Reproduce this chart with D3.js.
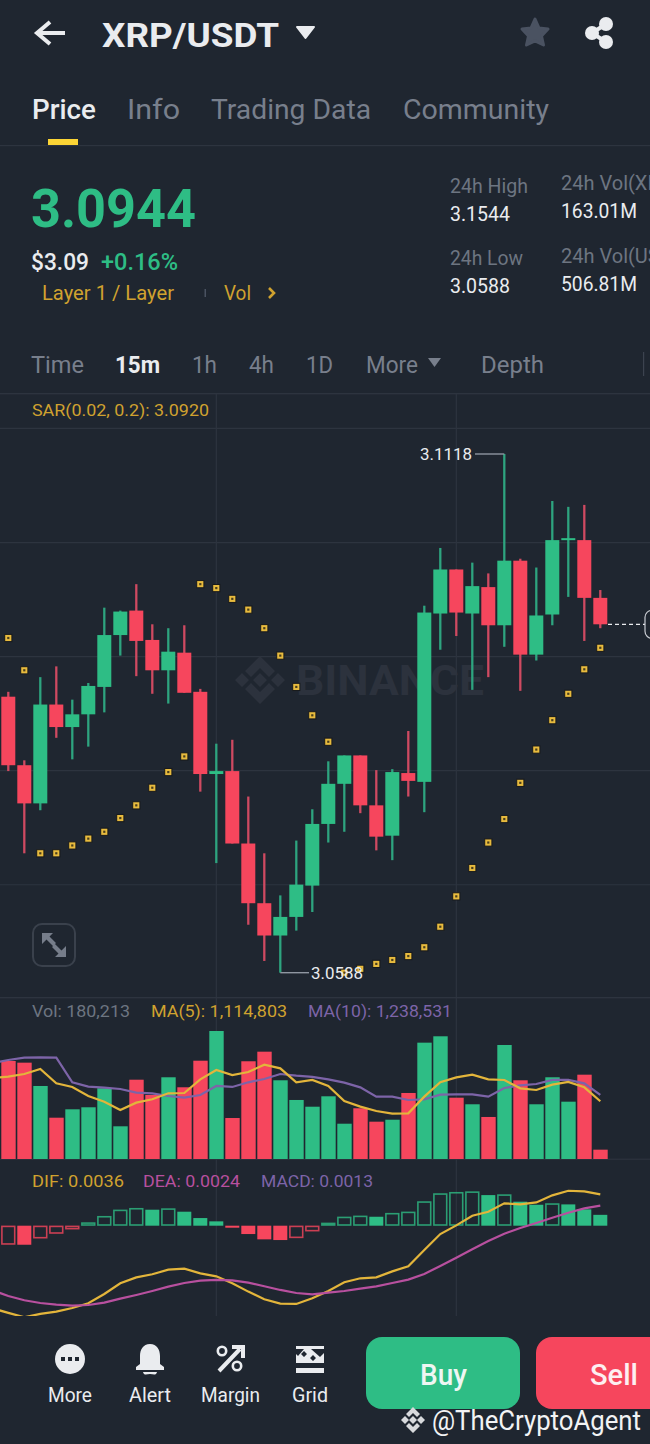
<!DOCTYPE html>
<html>
<head>
<meta charset="utf-8">
<script src="https://cdnjs.cloudflare.com/ajax/libs/d3/7.8.5/d3.min.js"></script>
<style>
html,body{margin:0;padding:0;background:#1f2630;overflow:hidden}
svg{display:block;font-family:Roboto,"Noto Sans",sans-serif}
</style>
</head>
<body>
<svg id="c" width="650" height="1444"></svg>
<script>
// ---------- DATA ----------
const opens  = [3.0870,3.0800,3.0761,3.0862,3.0839,3.0852,3.0880,3.0933,3.0958,3.0928,3.0897,3.0915,3.0875,3.0791,3.0794,3.0720,3.0659,3.0626,3.0645,3.0677,3.0740,3.0781,3.0810,3.0759,3.0728,3.0792,3.0783,3.0955,3.1000,3.0955,3.0982,3.0943,3.1009,3.0913,3.0954,3.1030,3.1030,3.0971];
const closes = [3.0800,3.0761,3.0862,3.0839,3.0852,3.0881,3.0933,3.0957,3.0927,3.0897,3.0916,3.0874,3.0791,3.0794,3.0720,3.0659,3.0626,3.0645,3.0678,3.0740,3.0781,3.0810,3.0759,3.0727,3.0793,3.0784,3.0956,3.1000,3.0956,3.0983,3.0943,3.1009,3.0913,3.0953,3.1030,3.1032,3.0971,3.0944];
const highs  = [3.0875,3.0805,3.0890,3.0901,3.0867,3.0884,3.0961,3.0958,3.0985,3.0944,3.0940,3.0943,3.0878,3.0822,3.0826,3.0768,3.0710,3.0667,3.0723,3.0755,3.0804,3.0810,3.0810,3.0795,3.0796,3.0835,3.0963,3.1022,3.1000,3.1007,3.0996,3.1118,3.1011,3.1002,3.1070,3.1064,3.1066,3.0979];
const lows   = [3.0794,3.0710,3.0754,3.0828,3.0806,3.0819,3.0854,3.0912,3.0891,3.0873,3.0863,3.0874,3.0773,3.0700,3.0720,3.0637,3.0600,3.0588,3.0631,3.0650,3.0721,3.0732,3.0751,3.0713,3.0703,3.0768,3.0752,3.0918,3.0932,3.0877,3.0890,3.0921,3.0876,3.0907,3.0943,3.0972,3.0927,3.0940];
const sar    = [3.0930,3.0897,3.0710,3.0710,3.0718,3.0725,3.0732,3.0746,3.0759,3.0777,3.0793,3.0809,3.0985,3.0981,3.0970,3.0959,3.0940,3.0912,3.0880,3.0851,3.0824,3.0588,3.0592,3.0597,3.0601,3.0605,3.0614,3.0635,3.0666,3.0695,3.0721,3.0745,3.0782,3.0816,3.0846,3.0873,3.0898,3.0920];
// volume, thousands
const volumes = [1891,1859,1409,797,959,998,1365,631,1530,1235,1577,1384,1897,2470,791,1886,2071,1519,1139,1009,1210,681,979,720,758,1274,2245,2368,1183,1056,811,2200,1519,1056,1577,1106,1627,180];
// first value of the next four lists belongs to the candle just off the left edge
const ma5  = [1563,1589,1640,1737,1460,1390,1216,1106,946,1087,1152,1267,1274,1537,1718,1621,1679,1821,1750,1480,1525,1409,1119,1010,926,875,881,1203,1480,1576,1628,1537,1525,1364,1332,1435,1486,1383,1115];
const ma10 = [1846,1911,1956,1962,1956,1480,1396,1377,1351,1280,1267,1216,1184,1235,1409,1390,1480,1544,1640,1608,1583,1537,1473,1383,1203,1203,1139,1152,1242,1248,1248,1203,1370,1422,1447,1525,1525,1460,1239];
const dif  = [-0.00950,-0.01003,-0.01053,-0.01015,-0.00988,-0.00946,-0.00892,-0.00785,-0.00663,-0.00594,-0.00559,-0.00506,-0.00494,-0.00548,-0.00582,-0.00663,-0.00758,-0.00846,-0.00896,-0.00900,-0.00835,-0.00751,-0.00651,-0.00605,-0.00594,-0.00525,-0.00467,-0.00280,-0.00096,0.00004,0.00115,0.00161,0.00257,0.00245,0.00268,0.00349,0.00402,0.00394,0.00360];
const dea  = [-0.00743,-0.00808,-0.00858,-0.00889,-0.00908,-0.00919,-0.00912,-0.00885,-0.00839,-0.00797,-0.00751,-0.00701,-0.00659,-0.00632,-0.00624,-0.00628,-0.00655,-0.00697,-0.00739,-0.00774,-0.00789,-0.00770,-0.00751,-0.00724,-0.00697,-0.00659,-0.00620,-0.00555,-0.00463,-0.00368,-0.00272,-0.00176,-0.00092,-0.00027,0.00031,0.00092,0.00149,0.00199,0.00230];
const macd = [-0.00230,-0.00218,-0.00219,-0.00146,-0.00092,-0.00042,0.00038,0.00111,0.00184,0.00203,0.00184,0.00199,0.00161,0.00088,0.00050,-0.00023,-0.00096,-0.00157,-0.00165,-0.00142,-0.00065,0.00034,0.00103,0.00115,0.00103,0.00146,0.00161,0.00280,0.00372,0.00387,0.00394,0.00352,0.00360,0.00276,0.00241,0.00257,0.00245,0.00188,0.00125];
const gridPrices = [3.11446,3.10279,3.09114,3.07949,3.06784];
const gridCandles = [13,28];
const tabLabels = ["Price","Info","Trading Data","Community"];
const timeLabels = ["Time","15m","1h","4h","1D","More","Depth"];
const toolLabels = ["More","Alert","Margin","Grid"];

// ---------- COLOURS ----------
const BG="#1f2630",GREEN="#2ebd85",RED="#f6465d",LINE="#2d343f",GREY="#787f8c",WHITE="#eaecef",GOLD="#d0a22f",YEL="#e3b53b",PURP="#7d64a8",PINK="#b8509f";

const svg=d3.select("#c");
const defs=svg.append("defs");
defs.append("clipPath").attr("id","macdClip").append("rect").attr("x",0).attr("y",1160).attr("width",650).attr("height",156);

function T(x,y,s,size,color,weight,w,anchor){
  const t=svg.append("text").attr("x",x).attr("y",y).text(s).attr("font-size",size).attr("fill",color).attr("font-weight",weight||400);
  if(w){t.attr("textLength",w).attr("lengthAdjust","spacingAndGlyphs");}
  if(anchor)t.attr("text-anchor",anchor);
  return t;
}

// ---------- SCALES ----------
const x=d3.scaleLinear().domain([0,37]).range([8.3,600.3]);
const y=d3.scaleLinear().domain([3.1118,3.0588]).range([454,972.7]);
const yVol=d3.scaleLinear().domain([0,2470]).range([1159,1031]);
const yMacd=d3.scaleLinear().domain([0,0.0036]).range([1225.7,1194.4]);
const idx=d3.range(opens.length);

// ---------- HEADER ----------
svg.append("path").attr("d","M37 33H65M50 22L37 33L50 44").attr("fill","none").attr("stroke",WHITE).attr("stroke-width",4);
T(102,47,"XRP/USDT",33.5,WHITE,700,177);
svg.append("path").attr("d","M297 27H314L305.5 38Z").attr("fill",WHITE).attr("stroke",WHITE).attr("stroke-width",2).attr("stroke-linejoin","round");
svg.append("path").attr("d","M535 19L539 28L548 29L541.5 36L543.5 45L535 41L526.5 45L528.5 36L522 29L531 28Z").attr("fill","#4a5261").attr("stroke","#4a5261").attr("stroke-width",3).attr("stroke-linejoin","round");
const sh=svg.append("g").attr("fill",WHITE);
sh.append("path").attr("d","M606 24L592 33L606 42").attr("fill","none").attr("stroke",WHITE).attr("stroke-width",4);
[[606,24],[592,33],[606,42]].forEach(p=>sh.append("circle").attr("cx",p[0]).attr("cy",p[1]).attr("r",7));

const tabX=[[32,64],[127,53],[211,160],[403,146]];
tabLabels.forEach((s,i)=>T(tabX[i][0],119,s,27,i?GREY:WHITE,i?400:500,tabX[i][1]));
svg.append("rect").attr("x",48).attr("y",139).attr("width",30).attr("height",6).attr("fill","#fcd535");
svg.append("rect").attr("x",0).attr("y",145).attr("width",650).attr("height",1.2).attr("fill",LINE);

T(31,227,"3.0944",54,GREEN,700,165);
T(31,270,"$3.09",24,WHITE,500,58);
T(101,270,"+0.16%",24,GREEN,500,77);
T(42,300,"Layer 1 / Layer",20,GOLD,400,132);
svg.append("rect").attr("x",204.5).attr("y",289).attr("width",1.5).attr("height",8).attr("fill","#4a5261");
T(224,300,"Vol",20,GOLD,400,27);
svg.append("path").attr("d","M269 288L274 293L269 298").attr("fill","none").attr("stroke",GOLD).attr("stroke-width",2.6);

T(450,193,"24h High",20,"#6d7581",400,78);
T(450,221,"3.1544",20,WHITE,400,60);
T(450,265,"24h Low",20,"#6d7581",400,73);
T(450,293,"3.0588",20,WHITE,400,60);
T(561,190,"24h Vol(XRP)",20,"#6d7581",400);
T(561,218,"163.01M",20,WHITE,400,76);
T(561,263,"24h Vol(USDT)",20,"#6d7581",400);
T(561,291,"506.81M",20,WHITE,400,76);

const timeX=[[31,53],[115,45],[192,25],[249,25],[306,27],[366,52],[481,63]];
timeLabels.forEach((s,i)=>T(timeX[i][0],373,s,24,i==1?WHITE:GREY,i==1?700:400,timeX[i][1]));
svg.append("path").attr("d","M428 358H441L434.5 367Z").attr("fill",GREY);
svg.append("rect").attr("x",643).attr("y",352).attr("width",1.2).attr("height",24).attr("fill","#3c434f");
svg.append("rect").attr("x",0).attr("y",393).attr("width",650).attr("height",1.4).attr("fill",LINE);

// ---------- GRID ----------
const gridAxis=d3.axisRight(y).tickValues(gridPrices).tickSize(650).tickFormat("");
const gg=svg.append("g").call(gridAxis);
gg.select(".domain").remove();
gg.selectAll("line").attr("stroke",LINE).attr("stroke-width",1.2);
svg.selectAll(".vgrid").data(gridCandles).join("line").attr("class","vgrid")
  .attr("x1",d=>x(d)).attr("x2",d=>x(d)).attr("y1",394).attr("y2",1316).attr("stroke",LINE).attr("stroke-width",1.2);
svg.append("rect").attr("x",0).attr("y",997).attr("width",650).attr("height",1.4).attr("fill",LINE);
svg.append("rect").attr("x",0).attr("y",1158.6).attr("width",650).attr("height",1.2).attr("fill",LINE);

// ---------- WATERMARK ----------
const wm="#2c323d";
const wg=svg.append("g").attr("fill",wm);
wg.append("path").attr("d","M260 656L275 671L269 677L260 668L251 677L245 671Z M260 704L275 689L269 683L260 692L251 683L245 689Z M260 673L267 680L260 687L253 680Z M242 673L249 680L242 687L235 680Z M278 673L285 680L278 687L271 680Z");
T(296,695,"BINANCE",42,wm,700,188);

T(32,416,"SAR(0.02, 0.2): 3.0920",17,GOLD,400,177);

// ---------- CANDLES ----------
const candle=svg.append("g");
candle.selectAll(".wick").data(idx).join("line").attr("class","wick")
  .attr("x1",i=>x(i)).attr("x2",i=>x(i)).attr("y1",i=>y(highs[i])).attr("y2",i=>y(lows[i]))
  .attr("stroke",i=>closes[i]>=opens[i]?"#2ea47f":"#cf4a61").attr("stroke-width",2.3);
candle.selectAll(".body").data(idx).join("rect").attr("class","body")
  .attr("x",i=>x(i)-7).attr("width",14)
  .attr("y",i=>y(Math.max(opens[i],closes[i])))
  .attr("height",i=>Math.max(2,Math.abs(y(opens[i])-y(closes[i]))))
  .attr("fill",i=>closes[i]>=opens[i]?GREEN:RED);

// ---------- SAR ----------
const sg=svg.append("g");
sg.selectAll(".s").data(sar).join("rect").attr("class","s").attr("x",(d,i)=>x(i)-3.6).attr("y",d=>y(d)-3.6)
  .attr("width",7.2).attr("height",7.2).attr("fill","#e8bb3e").attr("stroke","#17191c").attr("stroke-width",1);
sg.selectAll(".si").data(sar).join("rect").attr("class","si").attr("x",(d,i)=>x(i)-1.1).attr("y",d=>y(d)-1.1)
  .attr("width",2.2).attr("height",2.2).attr("fill","#4a3f1c");

// ---------- EXTREME LABELS ----------
const hiI=d3.maxIndex(highs),loI=d3.minIndex(lows);
svg.append("line").attr("x1",475).attr("x2",x(hiI)).attr("y1",y(highs[hiI])).attr("y2",y(highs[hiI])).attr("stroke","#8f96a1").attr("stroke-width",1.4);
T(420,460,d3.format(".4f")(highs[hiI]),17,WHITE,400,52);
svg.append("line").attr("x1",x(loI)).attr("x2",309).attr("y1",y(lows[loI])).attr("y2",y(lows[loI])).attr("stroke","#8f96a1").attr("stroke-width",1.4);
T(311,979,d3.format(".4f")(lows[loI]),17,WHITE,400,52);

// last price dash + clipped tag
const lastY=y(closes[closes.length-1]);
svg.append("line").attr("x1",608).attr("x2",645).attr("y1",lastY).attr("y2",lastY).attr("stroke",WHITE).attr("stroke-width",1.2).attr("stroke-dasharray","4 3");
svg.append("rect").attr("x",645).attr("y",lastY-14).attr("width",30).attr("height",28).attr("rx",7).attr("fill",BG).attr("stroke","#c9ccd2").attr("stroke-width",1.2);

// ---------- EXPAND BUTTON ----------
svg.append("rect").attr("x",33).attr("y",924).attr("width",42).attr("height",42).attr("rx",9).attr("fill","none").attr("stroke","#3a414c").attr("stroke-width",2);
svg.append("path").attr("fill","#767d8a").attr("d","M42 933H53L49.5 936.5L56 943L53 946L46.5 939.5L42 944Z M66 957H55L58.5 953.5L52 947L55 944L61.5 950.5L66 946Z");

// ---------- VOLUME ----------
T(32,1017,"Vol: 180,213",16.5,"#6d7581",400,98);
T(151,1017,"MA(5): 1,114,803",16.5,GOLD,400,136);
T(308,1017,"MA(10): 1,238,531",16.5,PURP,400,144);
svg.append("g").selectAll("rect").data(volumes).join("rect")
  .attr("x",(d,i)=>x(i)-7).attr("width",14.4).attr("y",d=>yVol(d)).attr("height",d=>yVol(0)-yVol(d))
  .attr("fill",(d,i)=>closes[i]>=opens[i]?GREEN:RED);
const lineVol=d3.line().x((d,i)=>x(i-1)).y(d=>yVol(d));
svg.append("path").datum(ma10).attr("d",lineVol).attr("fill","none").attr("stroke",PURP).attr("stroke-width",2.2);
svg.append("path").datum(ma5).attr("d",lineVol).attr("fill","none").attr("stroke",YEL).attr("stroke-width",2.2);

// ---------- MACD ----------
T(32,1187,"DIF: 0.0036",16.5,GOLD,400,92);
T(143,1187,"DEA: 0.0024",16.5,PINK,400,97);
T(261,1187,"MACD: 0.0013",16.5,PURP,400,112);
const mv=macd.slice(1);
const mg=svg.append("g").selectAll("rect").data(mv).join("rect");
mg.each(function(d,i){
  const rising=d>macd[i];
  const col=d>=0?GREEN:RED;
  const top=yMacd(Math.max(d,0)),bot=yMacd(Math.min(d,0));
  const s=d3.select(this);
  if(rising){
    s.attr("x",x(i)-6.4).attr("width",12.8).attr("y",top+.7).attr("height",Math.max(.5,bot-top-1.4))
     .attr("fill","none").attr("stroke",col).attr("stroke-width",1.6).attr("opacity",.8);
  }else{
    s.attr("x",x(i)-7).attr("width",14).attr("y",top).attr("height",Math.max(1.5,bot-top)).attr("fill",col);
  }
});
const lineM=d3.line().x((d,i)=>x(i-1)).y(d=>yMacd(d));
const mc=svg.append("g").attr("clip-path","url(#macdClip)");
mc.append("path").datum(dif).attr("d",lineM).attr("fill","none").attr("stroke",YEL).attr("stroke-width",2.2);
mc.append("path").datum(dea).attr("d",lineM).attr("fill","none").attr("stroke",PINK).attr("stroke-width",2.2);

// ---------- TOOLBAR ----------
svg.append("rect").attr("x",0).attr("y",1316).attr("width",650).attr("height",128).attr("fill",BG);
const toolX=[[48,44],[129,42],[201,59],[292,36]];
toolLabels.forEach((s,i)=>T(toolX[i][0],1402,s,20,WHITE,400,toolX[i][1]));
// more
svg.append("circle").attr("cx",70).attr("cy",1359).attr("r",15).attr("fill",WHITE);
[63,70,77].forEach(c=>svg.append("rect").attr("x",c-2).attr("y",1357).attr("width",4).attr("height",4).attr("fill",BG));
// bell
svg.append("path").attr("fill",WHITE).attr("d","M150 1344C157 1344 160 1350 160 1356V1364L164 1367V1370H136V1367L140 1364V1356C140 1350 143 1344 150 1344Z M143 1372H157C156 1376 153 1374 150 1374C147 1374 144 1376 143 1372Z");
// margin
svg.append("path").attr("fill","none").attr("stroke",WHITE).attr("stroke-width",4).attr("d","M219 1371L240 1349M232 1347H243V1358");
[[222,1351],[237,1366]].forEach(p=>svg.append("circle").attr("cx",p[0]).attr("cy",p[1]).attr("r",4.2).attr("fill","none").attr("stroke",WHITE).attr("stroke-width",2.6));
// grid
svg.append("rect").attr("x",296).attr("y",1346).attr("width",28).attr("height",17).attr("fill",WHITE);
svg.append("path").attr("fill",BG).attr("d","M296 1349L304 1349L298 1356L296 1354Z M311 1349H324V1353L320 1357Z");
svg.append("path").attr("fill",BG).attr("d","M304 1351L307 1354L304 1357L301 1354Z M313 1355L316 1358L313 1361L310 1358Z");
svg.append("rect").attr("x",296).attr("y",1368).attr("width",28).attr("height",5).attr("fill",WHITE);
// buttons
svg.append("rect").attr("x",366).attr("y",1337).attr("width",154).attr("height",72).attr("rx",16).attr("fill",GREEN);
svg.append("rect").attr("x",536).attr("y",1337).attr("width",140).attr("height",72).attr("rx",16).attr("fill",RED);
T(420,1385,"Buy",30,"#eef6f3",500,47);
T(590,1385,"Sell",30,"#fdeff1",500,48);
// author mark
svg.append("path").attr("fill","#d8dadd").attr("d","M413 1407L420 1414L417 1417L413 1413L409 1417L406 1414Z M413 1433L420 1426L417 1423L413 1427L409 1423L406 1426Z M413 1416L417 1420L413 1424L409 1420Z M405 1416L409 1420L405 1424L401 1420Z M421 1416L425 1420L421 1424L417 1420Z");
T(432,1430,"@TheCryptoAgent",27,"#f2f3f4",400,209);
</script>
</body>
</html>
